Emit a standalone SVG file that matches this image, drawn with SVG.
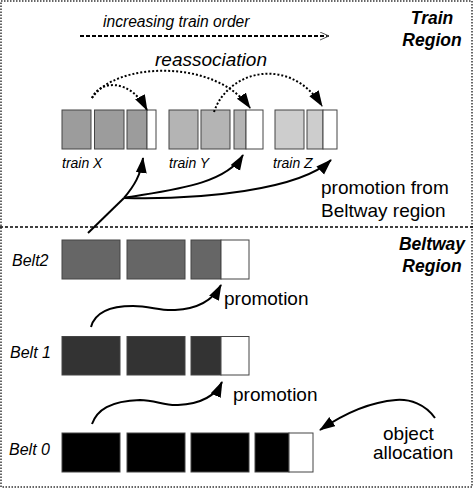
<svg xmlns="http://www.w3.org/2000/svg" width="474" height="488" viewBox="0 0 474 488">
<defs>
<marker id="ah" markerUnits="userSpaceOnUse" markerWidth="17" markerHeight="12" refX="15" refY="5.5" orient="auto">
<path d="M0,0 L16,5.5 L0,11 z" fill="#000"/>
</marker>
<marker id="open" markerUnits="userSpaceOnUse" markerWidth="12" markerHeight="10" refX="9" refY="4" orient="auto">
<path d="M0,0 L9,4 L0,8" fill="none" stroke="#555" stroke-width="1"/>
</marker>
<style>
.t{font-family:"Liberation Sans",Arial,sans-serif;fill:#000}
.it{font-style:italic}
.b{font-weight:bold}
.box{stroke:#444;stroke-width:1}
.x{fill:#9c9c9c}.y{fill:#b4b4b4}.z{fill:#cdcdcd}
.b2{fill:#666}.b1{fill:#333}.b0{fill:#000}
.w{fill:#fff}
.dot{fill:none;stroke:#000;stroke-width:2;stroke-dasharray:2 2}
.sol{fill:none;stroke:#000;stroke-width:2}
</style>
</defs>
<rect x="1" y="1" width="471" height="486" fill="#fff" stroke="#666" stroke-width="2" stroke-dasharray="1.5 1.5"/>
<line x1="0" y1="227" x2="474" y2="227" stroke="#000" stroke-width="1.5" stroke-dasharray="3 2"/>

<g id="region-labels">
<text class="t it b" x="432" y="24" font-size="17.5" text-anchor="middle">Train</text>
<text class="t it b" x="432" y="45.5" font-size="17.5" text-anchor="middle">Region</text>
<text class="t it b" x="432" y="250" font-size="17.5" text-anchor="middle">Beltway</text>
<text class="t it b" x="432" y="271.5" font-size="17.5" text-anchor="middle">Region</text>
</g>

<g id="order">
<text class="t it" x="103" y="26.5" font-size="15.6">increasing train order</text>
<line x1="80" y1="36" x2="329" y2="36" stroke="#000" stroke-width="2" stroke-dasharray="4 2" marker-end="url(#open)"/>
</g>

<g id="trainX">
<rect class="box x" x="62" y="110" width="29" height="39"/>
<rect class="box x" x="94.5" y="110" width="29.5" height="39"/>
<rect class="box x" x="127" y="110" width="20" height="39"/>
<rect class="box w" x="147" y="110" width="9" height="39"/>
<text class="t it" x="62" y="167.5" font-size="14">train X</text>
</g>
<g id="trainY">
<rect class="box y" x="169" y="110" width="29" height="39"/>
<rect class="box y" x="201" y="110" width="29" height="39"/>
<rect class="box y" x="234" y="110" width="12" height="39"/>
<rect class="box w" x="246" y="110" width="17" height="39"/>
<text class="t it" x="169" y="167.5" font-size="14">train Y</text>
</g>
<g id="trainZ">
<rect class="box z" x="275" y="110" width="29" height="39"/>
<rect class="box z" x="307" y="110" width="16" height="39"/>
<rect class="box w" x="323" y="110" width="14" height="39"/>
<text class="t it" x="273" y="167.5" font-size="14">train Z</text>
</g>

<g id="belt2">
<rect class="box b2" x="62" y="240" width="58" height="39"/>
<rect class="box b2" x="127" y="240" width="58" height="39"/>
<rect class="box b2" x="191" y="240" width="30" height="39"/>
<rect class="box w" x="221" y="240" width="28" height="39"/>
<text class="t it" x="12" y="266" font-size="16">Belt2</text>
</g>
<g id="belt1">
<rect class="box b1" x="62" y="336.5" width="58" height="38.5"/>
<rect class="box b1" x="127" y="336.5" width="58" height="38.5"/>
<rect class="box b1" x="191" y="336.5" width="30" height="38.5"/>
<rect class="box w" x="221" y="336.5" width="28" height="38.5"/>
<text class="t it" x="10" y="357.5" font-size="16">Belt 1</text>
</g>
<g id="belt0">
<rect class="box b0" x="62" y="433" width="58" height="39"/>
<rect class="box b0" x="127" y="433" width="58" height="39"/>
<rect class="box b0" x="191" y="433" width="58" height="39"/>
<rect class="box b0" x="255" y="433" width="34" height="39"/>
<rect class="box w" x="289" y="433" width="24" height="39" stroke="#000"/>
<text class="t it" x="9" y="454.5" font-size="16">Belt 0</text>
</g>

<g id="connectors">
<path class="dot" d="M92,98 C100,80 130,78 147,110" marker-end="url(#ah)"/>
<path class="dot" d="M92,98 C115,62 215,58 250,108" marker-end="url(#ah)"/>
<path class="dot" d="M214,112 C228,70 290,55 322,106" marker-end="url(#ah)"/>
<path class="sol" d="M88,233 L124,198"/>
<path class="sol" d="M124,198 C134,186 141,175 143,158" marker-end="url(#ah)"/>
<path class="sol" d="M124,198 C170,190 225,185 243,155" marker-end="url(#ah)"/>
<path class="sol" d="M124,198 C200,200 300,190 331,160" marker-end="url(#ah)"/>
<path class="sol" d="M91,327 C95,312 110,306 133,306 C150,306 160,311 175,310 C195,309 212,302 221,285" marker-end="url(#ah)"/>
<path class="sol" d="M92,424 C97,410 110,401 140,400 C155,400 165,406 178,405 C198,404 215,397 222,382" marker-end="url(#ah)"/>
<path class="sol" d="M435,418 C425,404 410,399 396,400 C370,402 345,413 320,430" marker-end="url(#ah)"/>
</g>

<g id="labels">
<text class="t it" x="155" y="65.5" font-size="19">reassociation</text>
<text class="t" x="321" y="193.5" font-size="19">promotion from</text>
<text class="t" x="321" y="216.5" font-size="19">Beltway region</text>
<text class="t" x="224" y="305" font-size="19">promotion</text>
<text class="t" x="233" y="401" font-size="19">promotion</text>
<text class="t" x="383" y="440" font-size="19">object</text>
<text class="t" x="373" y="459" font-size="19">allocation</text>
</g>
</svg>
